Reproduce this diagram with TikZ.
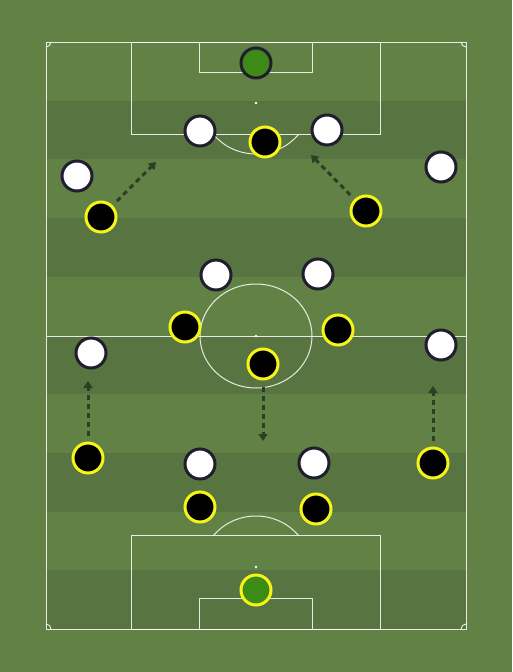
\documentclass[tikz,border=0pt]{standalone}
\usetikzlibrary{arrows.meta}
\definecolor{grassL}{HTML}{628245}
\definecolor{grassD}{HTML}{587440}
\definecolor{navy}{HTML}{1F1D2E}
\definecolor{yel}{HTML}{F5F51A}
\definecolor{gk}{HTML}{3E8A17}
\definecolor{arr}{HTML}{2C3F24}
\begin{document}
\begin{tikzpicture}[x=1pt,y=-1pt,
  pline/.style={draw=white,draw opacity=0.85,line width=1pt},
  player/.style={circle,minimum size=30pt,inner sep=0pt,line width=3pt},
  whiteP/.style={player,fill=white,draw=navy},
  blackP/.style={player,fill=black,draw=yel},
  gkTop/.style={player,fill=gk,draw=navy},
  gkBot/.style={player,fill=gk,draw=yel},
  run/.style={draw=arr,line width=3pt,dash pattern=on 5pt off 4pt,shorten <=6pt,-{Triangle[length=7pt,width=9pt]}}]
\useasboundingbox (0,0) rectangle (512,672);
\fill[grassL] (0,0) rectangle (512,672);
% stripes
\foreach \i in {1,3,5,7,9}{
  \fill[grassD] (46,{42+\i*58.7}) rectangle (466,{42+(\i+1)*58.7});
}
% pitch lines
\draw[pline] (46,42) rectangle (466,629);
\draw[pline] (46,336) -- (466,336);
\draw[pline] (256,336) ellipse [x radius=56,y radius=52];
\fill[white] (256,336) circle (1.3);
% top
\draw[pline] (131,42) rectangle (380,134);
\draw[pline] (199,42) rectangle (312,72);
\fill[white] (256,103) circle (1.3);
\begin{scope}
  \clip (0,134) rectangle (512,200);
  \draw[pline] (256,103) ellipse [x radius=54,y radius=51];
\end{scope}
% bottom
\draw[pline] (131,535) rectangle (380,629);
\draw[pline] (199,598) rectangle (312,629);
\fill[white] (256,567) circle (1.3);
\begin{scope}
  \clip (0,470) rectangle (512,535);
  \draw[pline] (256,567) ellipse [x radius=54,y radius=51];
\end{scope}
% corners
\draw[pline] (51,42) arc[start angle=0,end angle=90,radius=5];
\draw[pline] (461,42) arc[start angle=180,end angle=90,radius=5];
\draw[pline] (51,629) arc[start angle=0,end angle=-90,radius=5];
\draw[pline] (461,629) arc[start angle=180,end angle=270,radius=5];
% arrow targets
\coordinate (t1) at (156,162);
\coordinate (t2) at (311,155);
\coordinate (t3) at (88,381);
\coordinate (t4) at (263,441);
\coordinate (t5) at (433,386);
% players
\node[gkTop] (gkA) at (256,63) {};
\node[whiteP] (w1) at (200,131) {};
\node[whiteP] (w2) at (327,130) {};
\node[whiteP] (w3) at (77,176) {};
\node[whiteP] (w4) at (441,167) {};
\node[whiteP] (w5) at (216,275) {};
\node[whiteP] (w6) at (318,274) {};
\node[whiteP] (w7) at (91,353) {};
\node[whiteP] (w8) at (441,345) {};
\node[whiteP] (w9) at (200,464) {};
\node[whiteP] (w10) at (314,463) {};
\node[gkBot] (gkB) at (256,590) {};
\node[blackP] (b1) at (265,142) {};
\node[blackP] (b2) at (101,217) {};
\node[blackP] (b3) at (366,211) {};
\node[blackP] (b4) at (185,327) {};
\node[blackP] (b5) at (338,330) {};
\node[blackP] (b6) at (263,364) {};
\node[blackP] (b7) at (88,458) {};
\node[blackP] (b8) at (433,463) {};
\node[blackP] (b9) at (200,507) {};
\node[blackP] (b10) at (316,509) {};
% runs
\draw[run] (b2) -- (t1);
\draw[run] (b3) -- (t2);
\draw[run] (b7) -- (t3);
\draw[run] (b6) -- (t4);
\draw[run] (b8) -- (t5);
\end{tikzpicture}
\end{document}
